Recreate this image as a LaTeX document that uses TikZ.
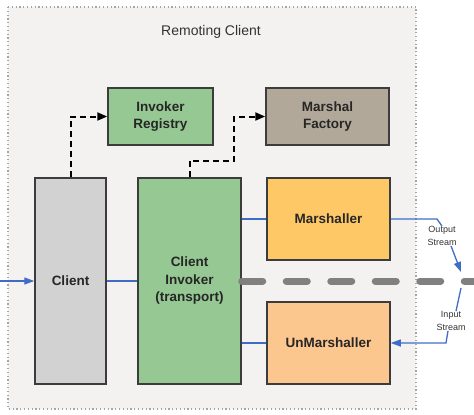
\documentclass[tikz,border=0pt]{standalone}
\usepackage{fontspec}
\setmainfont{Liberation Sans}
\usetikzlibrary{arrows.meta}
\definecolor{framefill}{HTML}{F3F2F0}
\definecolor{regcol}{HTML}{95C893}
\definecolor{faccol}{HTML}{B2A899}
\definecolor{clcol}{HTML}{D2D2D2}
\definecolor{marcol}{HTML}{FFC866}
\definecolor{unmcol}{HTML}{FCC68F}
\definecolor{wire}{HTML}{3F6DC6}
\definecolor{edge}{HTML}{3C3C3C}

\begin{document}
\begin{tikzpicture}[x=1pt,y=-1pt,
  box/.style={draw=edge,line width=1.5pt,align=center,inner sep=0pt,
    font=\fontsize{13.5}{17.5}\selectfont\bfseries,text=black!85},
  dasharrow/.style={line width=2pt,dash pattern=on 6pt off 4pt,
    -{Triangle[length=10pt,width=8pt]}},
  blueline/.style={wire,line width=1.3pt},
  bluearrow/.style={blueline,-{Triangle[length=10pt,width=7pt]}},
  pipestyle/.style={black!50,line width=7pt,line cap=round,
    dash pattern=on 21pt off 23.5pt},
  small/.style={align=center,inner sep=0pt,text=black!80,
    font=\fontsize{9}{13}\selectfont}]
\useasboundingbox (0,0) rectangle (474,415);
%%Frame
\draw[black!35,line width=1.2pt,dash pattern=on 1.2pt off 2.6pt,fill=framefill]
  (8,7) rectangle (416,409);
\node[text=black!80,font=\fontsize{14}{16}\selectfont] (title) at (211,32) {Remoting Client};

%%Boxes
\node[box,fill=regcol,minimum width=105pt,minimum height=57pt] (reg) at (160.5,116.5) {Invoker\\Registry};
\node[box,fill=faccol,minimum width=123pt,minimum height=57pt] (fac) at (327.5,116.5) {Marshal\\Factory};
\node[box,fill=clcol,minimum width=71pt,minimum height=206pt] (cl) at (70.5,281) {Client};
\node[box,fill=regcol,minimum width=103pt,minimum height=206pt] (inv) at (189.5,281) {Client\\Invoker\\(transport)};
\node[box,fill=marcol,minimum width=123pt,minimum height=82pt] (mar) at (328.5,219) {Marshaller};
\node[box,fill=unmcol,minimum width=123pt,minimum height=82pt] (unm) at (328.5,343) {UnMarshaller};

%%Dashed arrows
\coordinate (bend) at (234,161);
\draw[dasharrow] (cl.north) |- (reg.west);
\draw[dasharrow] (inv.north) |- (bend) |- (fac.west);

%%Wires
\coordinate (in) at (0,281);
\draw[bluearrow] (in) -- (cl.west);
\draw[blueline] (cl.east) -- (inv.west);
\draw[blueline] (inv.east |- mar.west) -- (mar.west);
\draw[blueline] (inv.east |- unm.west) -- (unm.west);

%%Transport line
\coordinate (pipe) at (474,281);
\draw[pipestyle] (inv.east) -- (pipe);

%%Streams
\node[small] (out) at (442,236) {Output\\Stream};
\node[small] (inp) at (451,321) {Input\\Stream};
\coordinate (obend) at (437,219);
\coordinate (ohit) at (461,272);
\coordinate (ihit) at (461,288);
\coordinate (ibend) at (446,343);
\draw[blueline] (mar.east) -- (obend) -- (out.north);
\draw[bluearrow] ([xshift=9pt]out.south) -- (ohit);
\draw[blueline] (ihit) -- ([xshift=5pt]inp.north);
\draw[bluearrow] ([xshift=-3pt]inp.south) -- (ibend) -- (unm.east);
\end{tikzpicture}
\end{document}
